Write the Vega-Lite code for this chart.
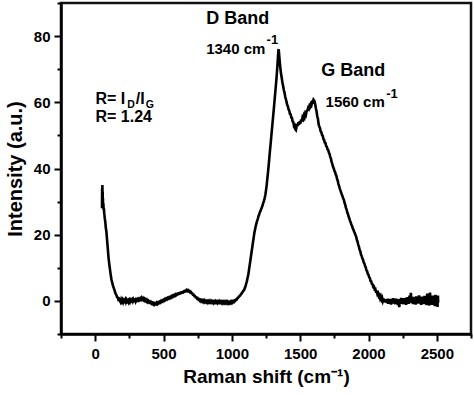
{
"$schema":"https://vega.github.io/schema/vega-lite/v6.json",
"width":410,"height":331,
"autosize":{"type":"none"},
"padding":{"left":61,"top":3,"right":3,"bottom":61},
"background":"white",
"config":{
 "view":{"stroke":"#111","strokeWidth":2.5},
 "font":"Liberation Sans",
 "axis":{"grid":false,"domainColor":"#000","domainWidth":2.5,"tickColor":"#000","tickWidth":2,
  "labelFont":"Liberation Sans","labelFontWeight":"bold","labelFontSize":15,"labelColor":"#000",
  "titleFont":"Liberation Sans","titleFontWeight":"bold","titleFontSize":19,"titleColor":"#000"}
},
"datasets":{
"spectrum":[
{"s":50,"i":28},{"s":51,"i":34},{"s":52,"i":31},{"s":53,"i":35},{"s":54,"i":29},{"s":55,"i":33},{"s":56,"i":30},{"s":57,"i":31},{"s":58,"i":28},{"s":60,"i":29.5},{"s":62,"i":27.5},{"s":64,"i":28},{"s":66,"i":26.5},{"s":68,"i":26},{"s":70,"i":25},{"s":72,"i":24.5},{"s":75,"i":23.5},{"s":78,"i":22},{"s":82,"i":21},{"s":86,"i":19},{"s":90,"i":17},{"s":94,"i":15},{"s":98,"i":13},{"s":102,"i":11.5},{"s":106,"i":10.3},{"s":110,"i":9},{"s":115,"i":7.5},{"s":120,"i":6.3},{"s":125,"i":5.5},{"s":130,"i":4.6},{"s":135,"i":4},{"s":142,"i":3.2},{"s":148,"i":2.3},{"s":155,"i":1.8},{"s":160,"i":1.2},{"s":165,"i":1},{"s":170,"i":0.4},{"s":175,"i":0.6},{"s":179,"i":0.2},
{"s":185,"i":-0.3},{"s":190,"i":0.4},{"s":195,"i":-0.2},{"s":200,"i":0.3},{"s":205,"i":-0.4},{"s":210,"i":0.2},{"s":215,"i":-0.1},{"s":220,"i":0.4},{"s":225,"i":-0.3},{"s":230,"i":0.3},{"s":235,"i":-0.2},{"s":240,"i":0.1},{"s":245,"i":-0.4},{"s":250,"i":0.2},{"s":255,"i":-0.3},{"s":260,"i":0.3},{"s":265,"i":0},{"s":270,"i":0.4},{"s":275,"i":-0.1},{"s":280,"i":0.5},{"s":285,"i":0.1},{"s":290,"i":0.3},{"s":295,"i":-0.2},{"s":300,"i":0.4},{"s":305,"i":0.1},{"s":310,"i":0.5},{"s":315,"i":0.2},{"s":320,"i":0.6},{"s":325,"i":0.3},{"s":330,"i":0.7},{"s":335,"i":0.4},{"s":340,"i":0.9},{"s":345,"i":0.5},{"s":350,"i":0.8},{"s":355,"i":0.3},{"s":360,"i":0.6},{"s":365,"i":0.1},{"s":370,"i":0.4},{"s":375,"i":-0.1},{"s":380,"i":0.2},{"s":385,"i":-0.3},{"s":390,"i":0},{"s":395,"i":-0.4},{"s":400,"i":-0.2},{"s":405,"i":-0.6},{"s":410,"i":-0.4},{"s":415,"i":-0.8},{"s":420,"i":-0.6},{"s":425,"i":-1.0},{"s":430,"i":-0.7},{"s":435,"i":-1.1},{"s":440,"i":-0.8},{"s":445,"i":-1.0},{"s":450,"i":-0.6},{"s":455,"i":-0.9},{"s":460,"i":-0.5},{"s":465,"i":-0.7},{"s":470,"i":-0.3},{"s":475,"i":-0.5},{"s":480,"i":-0.1},{"s":485,"i":-0.3},{"s":490,"i":0.1},{"s":495,"i":-0.1},{"s":500,"i":0.3},{"s":505,"i":0.1},{"s":510,"i":0.5},{"s":515,"i":0.3},{"s":520,"i":0.7},{"s":525,"i":0.5},{"s":530,"i":0.9},{"s":535,"i":0.7},{"s":540,"i":1.0},{"s":545,"i":0.8},{"s":550,"i":1.2},{"s":555,"i":1.0},{"s":560,"i":1.4},{"s":565,"i":1.2},{"s":570,"i":1.6},{"s":575,"i":1.4},{"s":580,"i":1.8},{"s":585,"i":1.6},{"s":590,"i":2.0},{"s":595,"i":1.8},{"s":600,"i":2.1},{"s":605,"i":2.0},{"s":610,"i":2.3},{"s":615,"i":2.2},{"s":620,"i":2.4},{"s":625,"i":2.3},{"s":630,"i":2.6},{"s":635,"i":2.5},{"s":640,"i":2.7},{"s":645,"i":2.6},{"s":650,"i":2.9},{"s":655,"i":2.8},{"s":660,"i":3.1},{"s":665,"i":3.0},{"s":670,"i":3.3},{"s":675,"i":3.0},{"s":680,"i":3.2},{"s":685,"i":2.9},{"s":690,"i":3.0},{"s":695,"i":2.6},{"s":700,"i":2.7},{"s":705,"i":2.3},{"s":710,"i":2.3},{"s":715,"i":1.9},{"s":720,"i":1.9},{"s":725,"i":1.5},{"s":730,"i":1.5},{"s":735,"i":1.1},{"s":740,"i":1.1},{"s":745,"i":0.7},{"s":750,"i":0.8},{"s":755,"i":0.4},{"s":760,"i":0.5},{"s":765,"i":0.1},{"s":770,"i":0.3},{"s":775,"i":-0.1},{"s":780,"i":0.2},{"s":785,"i":-0.2},{"s":790,"i":0.1},{"s":795,"i":-0.3},{"s":800,"i":0.1},
{"s":805,"i":-0.3},{"s":810,"i":0},{"s":815,"i":-0.4},{"s":820,"i":-0.1},{"s":825,"i":-0.5},{"s":830,"i":-0.1},{"s":835,"i":-0.4},{"s":840,"i":0},{"s":845,"i":-0.4},{"s":850,"i":-0.1},{"s":855,"i":-0.5},{"s":860,"i":-0.2},{"s":865,"i":-0.6},{"s":870,"i":-0.2},{"s":875,"i":-0.5},{"s":880,"i":-0.1},{"s":885,"i":-0.5},{"s":890,"i":-0.2},{"s":895,"i":-0.6},{"s":900,"i":-0.2},{"s":905,"i":-0.5},{"s":910,"i":-0.1},{"s":915,"i":-0.5},{"s":920,"i":-0.2},{"s":925,"i":-0.6},{"s":930,"i":-0.3},{"s":935,"i":-0.7},{"s":940,"i":-0.3},{"s":945,"i":-0.6},{"s":950,"i":-0.2},{"s":955,"i":-0.6},{"s":960,"i":-0.3},{"s":965,"i":-0.7},{"s":970,"i":-0.3},{"s":975,"i":-0.7},{"s":980,"i":-0.4},{"s":985,"i":-0.7},{"s":990,"i":-0.3},{"s":995,"i":-0.6},{"s":1000,"i":-0.2},{"s":1005,"i":-0.5},{"s":1010,"i":-0.1},{"s":1015,"i":-0.3},{"s":1020,"i":0.1},{"s":1025,"i":0},{"s":1030,"i":0.4},{"s":1035,"i":0.4},{"s":1040,"i":0.8},{"s":1045,"i":0.9},{"s":1050,"i":1.2},{"s":1055,"i":1.4},{"s":1060,"i":1.6},{"s":1065,"i":1.9},{"s":1070,"i":2.1},{"s":1075,"i":2.5},{"s":1080,"i":2.7},{"s":1085,"i":3.1},{"s":1090,"i":3.3},{"s":1095,"i":3.9},{"s":1100,"i":4.4},{"s":1105,"i":5.2},{"s":1110,"i":5.9},{"s":1115,"i":6.9},{"s":1120,"i":7.8},{"s":1125,"i":9.2},{"s":1130,"i":10.6},{"s":1135,"i":12},{"s":1140,"i":13.5},{"s":1145,"i":15},{"s":1150,"i":16.3},{"s":1155,"i":17.8},{"s":1160,"i":19.2},{"s":1165,"i":20.6},{"s":1170,"i":21.6},{"s":1175,"i":22.6},{"s":1180,"i":23.4},{"s":1185,"i":24.2},{"s":1190,"i":24.8},{"s":1195,"i":25.6},{"s":1200,"i":26.1},{"s":1205,"i":26.8},{"s":1210,"i":27.2},{"s":1215,"i":27.8},{"s":1220,"i":28.3},{"s":1225,"i":28.9},{"s":1230,"i":29.6},{"s":1235,"i":30.2},{"s":1240,"i":31},{"s":1245,"i":32},{"s":1250,"i":33.4},{"s":1255,"i":35},{"s":1260,"i":37},{"s":1265,"i":39},{"s":1270,"i":41.2},{"s":1275,"i":43.5},{"s":1280,"i":45.8},{"s":1285,"i":48},{"s":1290,"i":50.3},{"s":1295,"i":52.5},{"s":1300,"i":54.8},{"s":1305,"i":57},{"s":1310,"i":59.3},{"s":1315,"i":61.7},{"s":1320,"i":64},{"s":1325,"i":66.4},{"s":1330,"i":69},{"s":1335,"i":72},{"s":1338,"i":74},{"s":1341,"i":75.8},{"s":1343,"i":76},{"s":1345,"i":75},{"s":1348,"i":73.5},{"s":1352,"i":71.5},{"s":1356,"i":70},{"s":1360,"i":68.6},{"s":1365,"i":67.4},{"s":1370,"i":66},{"s":1375,"i":65},{"s":1380,"i":63.8},{"s":1385,"i":63},{"s":1390,"i":61.8},{"s":1395,"i":61},{"s":1400,"i":60.2},{"s":1405,"i":59.2},{"s":1410,"i":58.8},{"s":1415,"i":57.8},{"s":1420,"i":57.5},{"s":1425,"i":56.5},{"s":1430,"i":56.4},{"s":1435,"i":55.4},{"s":1440,"i":55.3},{"s":1445,"i":54.2},{"s":1450,"i":54},{"s":1455,"i":52.8},{"s":1460,"i":53},{"s":1465,"i":51.8},{"s":1469,"i":51.6},{"s":1473,"i":52.5},{"s":1478,"i":53.4},{"s":1482,"i":52.8},{"s":1487,"i":54},{"s":1492,"i":53.2},{"s":1497,"i":54.3},{"s":1502,"i":53.6},{"s":1507,"i":54.8},{"s":1512,"i":54.2},{"s":1517,"i":55.4},{"s":1522,"i":55},{"s":1527,"i":56},{"s":1532,"i":55.5},{"s":1537,"i":56.6},{"s":1542,"i":56.2},{"s":1547,"i":57.3},{"s":1553,"i":57.6},{"s":1558,"i":58.3},{"s":1563,"i":58},{"s":1568,"i":58.9},{"s":1573,"i":58.6},{"s":1578,"i":59.5},{"s":1583,"i":59.2},{"s":1588,"i":60.1},{"s":1593,"i":60},{"s":1598,"i":60.8},{"s":1602,"i":60.6},{"s":1606,"i":60.2},{"s":1610,"i":59.4},{"s":1615,"i":58.2},{"s":1620,"i":57.2},{"s":1625,"i":55.8},{"s":1630,"i":55},{"s":1635,"i":53.4},{"s":1639,"i":52.8},{"s":1645,"i":52.2},{"s":1650,"i":51.2},{"s":1655,"i":51},{"s":1660,"i":50.1},{"s":1665,"i":49.9},{"s":1670,"i":48.9},{"s":1675,"i":48.7},{"s":1680,"i":47.8},{"s":1685,"i":47.7},{"s":1690,"i":46.8},{"s":1695,"i":46.6},{"s":1700,"i":45.8},{"s":1705,"i":45.6},{"s":1710,"i":44.8},{"s":1715,"i":44.4},{"s":1720,"i":43.5},{"s":1725,"i":43},{"s":1730,"i":42},{"s":1735,"i":41.4},{"s":1740,"i":40.6},{"s":1745,"i":40.1},{"s":1750,"i":39.4},{"s":1755,"i":39},{"s":1760,"i":38.2},{"s":1765,"i":37.8},{"s":1770,"i":36.8},{"s":1775,"i":36.3},{"s":1780,"i":35.3},{"s":1785,"i":34.7},{"s":1790,"i":33.9},{"s":1795,"i":33.3},{"s":1800,"i":32.7},{"s":1805,"i":32.1},{"s":1810,"i":31.6},{"s":1815,"i":30.9},{"s":1820,"i":30.5},{"s":1825,"i":29.6},{"s":1830,"i":29},{"s":1835,"i":28.1},{"s":1840,"i":27.6},{"s":1845,"i":26.7},{"s":1850,"i":26.2},{"s":1855,"i":25.4},{"s":1860,"i":24.9},{"s":1865,"i":24.1},{"s":1870,"i":23.7},{"s":1875,"i":23},{"s":1880,"i":22.6},{"s":1885,"i":21.9},{"s":1890,"i":21.5},{"s":1895,"i":20.9},{"s":1900,"i":20.5},{"s":1905,"i":19.8},{"s":1910,"i":19.4},{"s":1915,"i":18.4},{"s":1920,"i":17.9},{"s":1925,"i":16.9},{"s":1930,"i":16.4},{"s":1935,"i":15.4},{"s":1940,"i":15},{"s":1945,"i":14},{"s":1950,"i":13.6},{"s":1955,"i":12.8},{"s":1960,"i":12.5},{"s":1965,"i":11.6},{"s":1970,"i":11.3},{"s":1975,"i":10.5},{"s":1980,"i":10.1},{"s":1985,"i":9.2},{"s":1990,"i":9},{"s":1995,"i":8.1},{"s":2000,"i":7.9},{"s":2005,"i":7.1},{"s":2010,"i":6.9},{"s":2015,"i":6},{"s":2020,"i":5.9},{"s":2025,"i":5.1},{"s":2030,"i":5},{"s":2035,"i":4.2},{"s":2040,"i":4.3},{"s":2045,"i":3.5},{"s":2050,"i":3.6},{"s":2055,"i":2.8},{"s":2060,"i":2.8},{"s":2065,"i":2},{"s":2070,"i":2.3},{"s":2075,"i":1.4},{"s":2080,"i":1.7},{"s":2085,"i":0.8},{"s":2090,"i":1.3},{"s":2095,"i":0.4},{"s":2100,"i":0.9},{"s":2105,"i":0},{"s":2110,"i":0.7},{"s":2115,"i":-0.3},{"s":2120,"i":0.5},{"s":2125,"i":-0.5},{"s":2130,"i":0.4},
{"s":2135,"i":-0.6},{"s":2140,"i":0.7},{"s":2145,"i":-0.9},{"s":2150,"i":0.3},{"s":2155,"i":-0.7},{"s":2160,"i":0.6},{"s":2165,"i":-1.1},{"s":2170,"i":0.4},{"s":2175,"i":-0.8},{"s":2180,"i":0.8},{"s":2185,"i":-0.6},{"s":2190,"i":0.2},{"s":2195,"i":-1.0},{"s":2200,"i":0.7},{"s":2205,"i":-0.5},{"s":2210,"i":0.5},{"s":2215,"i":-1.3},{"s":2220,"i":0.3},{"s":2225,"i":-1.9},{"s":2230,"i":0.6},{"s":2235,"i":-0.9},{"s":2240,"i":0.9},{"s":2245,"i":-0.4},{"s":2250,"i":0.4},{"s":2255,"i":-1.0},{"s":2260,"i":0.8},{"s":2265,"i":-0.6},{"s":2270,"i":0.5},{"s":2275,"i":-1.2},{"s":2280,"i":1.1},{"s":2285,"i":-0.5},{"s":2290,"i":0.6},{"s":2295,"i":-0.9},{"s":2300,"i":1.6},{"s":2305,"i":-0.6},{"s":2310,"i":2.4},{"s":2315,"i":-0.4},{"s":2320,"i":0.9},{"s":2325,"i":-1.0},{"s":2330,"i":1.2},{"s":2335,"i":-0.3},{"s":2340,"i":0.7},{"s":2345,"i":-1.1},{"s":2350,"i":1.4},{"s":2355,"i":-0.5},{"s":2360,"i":0.9},{"s":2365,"i":-0.8},{"s":2370,"i":1.7},{"s":2375,"i":-0.4},{"s":2380,"i":1.0},{"s":2385,"i":-1.2},{"s":2390,"i":1.3},{"s":2395,"i":-0.6},{"s":2400,"i":0.8},{"s":2405,"i":-1.0},{"s":2410,"i":1.5},{"s":2415,"i":-0.7},{"s":2420,"i":1.1},{"s":2425,"i":-1.3},{"s":2430,"i":2.2},{"s":2435,"i":-0.5},{"s":2440,"i":1.2},{"s":2445,"i":-1.4},{"s":2450,"i":2.5},{"s":2455,"i":-0.8},{"s":2460,"i":1.0},{"s":2465,"i":-1.2},{"s":2470,"i":1.6},{"s":2475,"i":-0.9},{"s":2480,"i":0.9},{"s":2485,"i":-1.6},{"s":2490,"i":1.8},{"s":2495,"i":-1.0},{"s":2500,"i":1.2},{"s":2505,"i":-1.8},{"s":2508,"i":1.6},{"s":2510,"i":-0.5}
],
"big":[{"label":"D Band","s":812,"i":83.7},{"label":"G Band","s":1654,"i":67.9}],
"mid":[{"label":"1340 cm","s":812,"i":74.7},{"label":"1560 cm","s":1686,"i":58.5}],
"ratio":[{"label":"R= I","s":2,"i":59.4},{"label":"/I","s":297,"i":59.4},{"label":"R= 1.24","s":2,"i":54.0}],
"sup":[{"label":"-1","s":1254,"i":77.5},{"label":"-1","s":2129,"i":61.3}],
"sub":[{"label":"D","s":234,"i":58.3},{"label":"G","s":370,"i":58.3}]
},
"encoding":{
  "x":{"field":"s","type":"quantitative","scale":{"domain":[-250,2750],"nice":false,"zero":false},
   "axis":{"title":"Raman shift (cm⁻¹)","titlePadding":6,"values":[-250,0,250,500,750,1000,1250,1500,1750,2000,2250,2500,2750],
    "format":"d","labelExpr":"(datum.value >= 0 && datum.value <= 2500 && datum.value % 500 === 0) ? datum.label : ''",
    "tickSize":{"condition":{"test":"datum.value % 500 === 0","value":7},"value":4},"labelPadding":5,"labelFlush":false}},
  "y":{"field":"i","type":"quantitative","scale":{"domain":[-10,90],"nice":false,"zero":false},
   "axis":{"title":"Intensity (a.u.)","titlePadding":8,"values":[-10,0,10,20,30,40,50,60,70,80,90],
    "labelExpr":"(datum.value >= 0 && datum.value <= 80 && datum.value % 20 === 0) ? datum.label : ''",
    "tickSize":{"condition":{"test":"datum.value % 20 === 0","value":7},"value":4},"labelPadding":4,"labelFlush":false,"titleFontSize":20}}
},
"layer":[
{"data":{"name":"spectrum"},"mark":{"type":"line","color":"#000","strokeWidth":2.6,"clip":true}},
{"data":{"name":"big"},"mark":{"type":"text","align":"left","baseline":"alphabetic","font":"Liberation Sans","fontWeight":"bold","fontSize":18,"color":"#000"},
 "encoding":{"text":{"field":"label"}}},
{"data":{"name":"mid"},"mark":{"type":"text","align":"left","baseline":"alphabetic","font":"Liberation Sans","fontWeight":"bold","fontSize":15,"color":"#000"},
 "encoding":{"text":{"field":"label"}}},
{"data":{"name":"ratio"},"mark":{"type":"text","align":"left","baseline":"alphabetic","font":"Liberation Sans","fontWeight":"bold","fontSize":16,"color":"#000"},
 "encoding":{"text":{"field":"label"}}},
{"data":{"name":"sup"},"mark":{"type":"text","align":"left","baseline":"alphabetic","font":"Liberation Sans","fontWeight":"bold","fontSize":13,"color":"#000"},
 "encoding":{"text":{"field":"label"}}},
{"data":{"name":"sub"},"mark":{"type":"text","align":"left","baseline":"alphabetic","font":"Liberation Sans","fontWeight":"bold","fontSize":10.5,"color":"#000"},
 "encoding":{"text":{"field":"label"}}}
]
}
